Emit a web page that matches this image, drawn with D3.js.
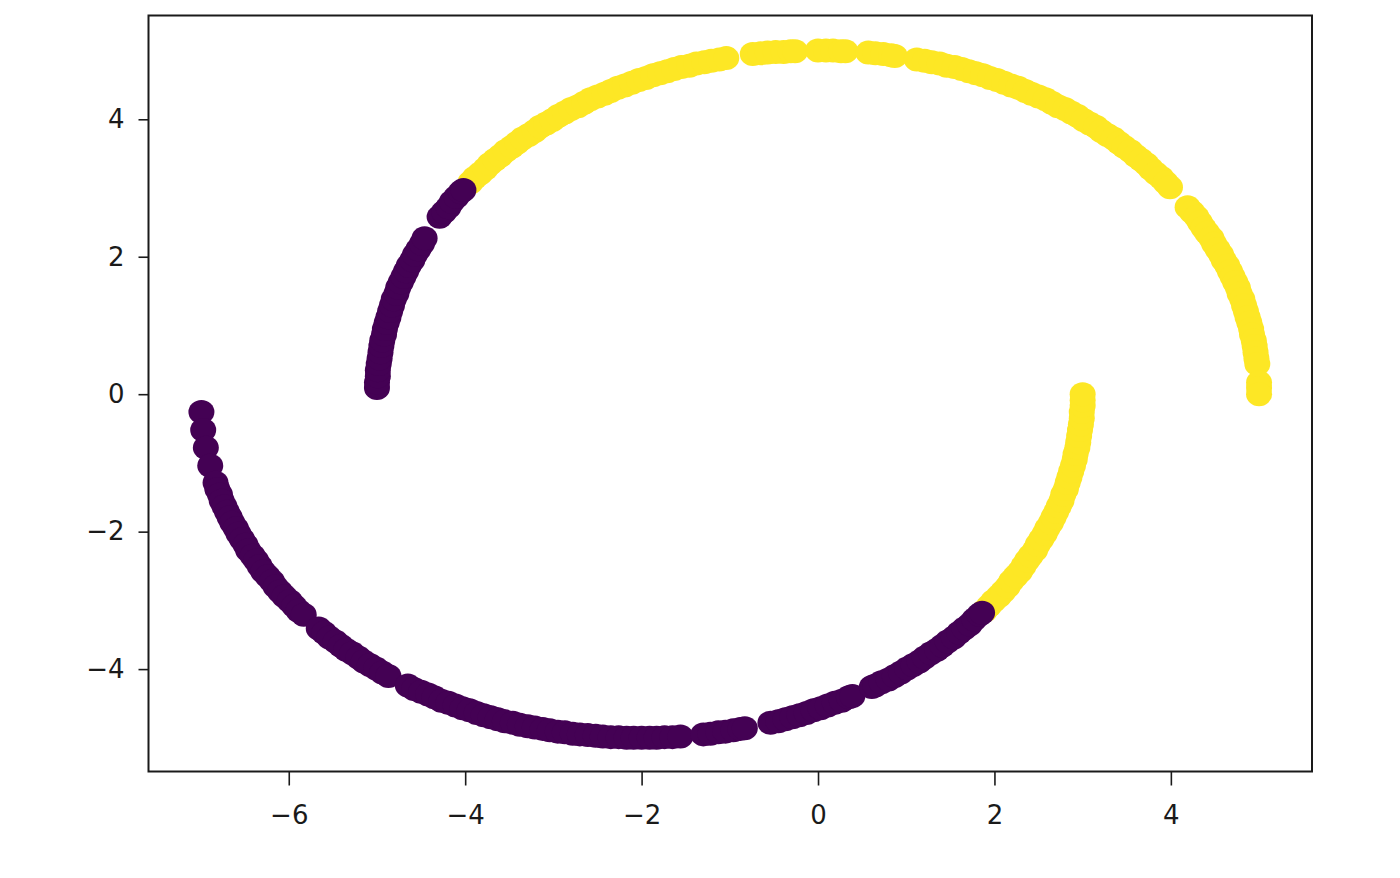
<!DOCTYPE html>
<html>
<head>
<meta charset="utf-8">
<script src="https://cdn.jsdelivr.net/npm/d3@7"></script>
<style>
  html, body { margin: 0; padding: 0; background: #ffffff; }
  svg { display: block; }
</style>
</head>
<body>
<svg id="chart" width="1400" height="878"></svg>
<script>
// ---------- data, [x, y] pairs ----------
const xTicks = [-6, -4, -2, 0, 2, 4];
const yTicks = [-4, -2, 0, 2, 4];

// upper moon, class 0 (purple)
const upperPurple = [
  [-5.00,0.09],[-5.00,0.17],[-4.99,0.26],[-4.99,0.35],[-4.98,0.44],[-4.97,0.52],[-4.96,0.61],[-4.95,0.70],
  [-4.94,0.78],[-4.92,0.87],[-4.91,0.95],[-4.89,1.04],[-4.87,1.12],[-4.85,1.21],[-4.83,1.29],[-4.81,1.38],
  [-4.78,1.46],[-4.76,1.55],[-4.73,1.63],[-4.70,1.71],[-4.67,1.79],[-4.64,1.87],[-4.60,1.95],[-4.57,2.03],
  [-4.53,2.11],[-4.49,2.19],[-4.46,2.27],
  [-4.29,2.58],[-4.24,2.65],[-4.19,2.72],[-4.15,2.80],[-4.10,2.87],[-4.05,2.94],[-4.02,2.97]
];

// upper moon, class 1 (yellow)
const upperYellow = [
  [-3.94,3.08],[-3.89,3.15],[-3.83,3.21],[-3.77,3.28],[-3.72,3.35],[-3.66,3.41],[-3.60,3.47],[-3.54,3.54],
  [-3.47,3.60],[-3.41,3.66],[-3.35,3.72],[-3.28,3.77],[-3.21,3.83],[-3.15,3.89],[-3.08,3.94],[-3.01,3.99],
  [-2.94,4.05],[-2.87,4.10],[-2.80,4.15],[-2.72,4.19],[-2.65,4.24],[-2.58,4.29],[-2.50,4.33],[-2.42,4.37],
  [-2.35,4.41],[-2.27,4.46],[-2.19,4.49],[-2.11,4.53],[-2.03,4.57],[-1.95,4.60],[-1.87,4.64],[-1.79,4.67],
  [-1.71,4.70],[-1.63,4.73],[-1.55,4.76],[-1.46,4.78],[-1.38,4.81],[-1.29,4.83],[-1.21,4.85],[-1.12,4.87],
  [-1.04,4.89],
  [-0.74,4.95],[-0.65,4.96],[-0.57,4.97],[-0.48,4.98],[-0.39,4.98],[-0.31,4.99],[-0.26,4.99],
  [0.00,5.00],[0.09,5.00],[0.17,5.00],[0.26,4.99],[0.31,4.99],
  [0.57,4.97],[0.65,4.96],[0.74,4.95],[0.83,4.93],[0.87,4.92],
  [1.12,4.87],[1.21,4.85],[1.29,4.83],[1.38,4.81],[1.46,4.78],[1.55,4.76],[1.63,4.73],[1.71,4.70],
  [1.79,4.67],[1.87,4.64],[1.95,4.60],[2.03,4.57],[2.11,4.53],[2.19,4.49],[2.27,4.46],[2.35,4.41],
  [2.42,4.37],[2.50,4.33],[2.58,4.29],[2.65,4.24],[2.72,4.19],[2.80,4.15],[2.87,4.10],[2.94,4.05],
  [3.01,3.99],[3.08,3.94],[3.15,3.89],[3.21,3.83],[3.28,3.77],[3.35,3.72],[3.41,3.66],[3.47,3.60],
  [3.54,3.54],[3.60,3.47],[3.66,3.41],[3.72,3.35],[3.77,3.28],[3.83,3.21],[3.89,3.15],[3.94,3.08],
  [3.99,3.01],
  [4.19,2.72],[4.24,2.65],[4.29,2.58],[4.33,2.50],[4.37,2.42],[4.41,2.35],[4.46,2.27],[4.49,2.19],
  [4.53,2.11],[4.57,2.03],[4.60,1.95],[4.64,1.87],[4.67,1.79],[4.70,1.71],[4.73,1.63],[4.76,1.55],
  [4.78,1.46],[4.81,1.38],[4.83,1.29],[4.85,1.21],[4.87,1.12],[4.89,1.04],[4.91,0.95],[4.92,0.87],
  [4.94,0.78],[4.95,0.70],[4.96,0.61],[4.97,0.52],[4.98,0.44],
  [5.00,0.17],[5.00,0.09],[5.00,0.00]
];

// lower moon, class 0 (purple)
const lowerPurple = [
  [-6.99,-0.26],[-6.97,-0.52],[-6.94,-0.78],[-6.89,-1.04],[-6.83,-1.29],
  [-6.81,-1.38],[-6.78,-1.46],[-6.76,-1.55],[-6.73,-1.63],[-6.70,-1.71],[-6.67,-1.79],[-6.64,-1.87],
  [-6.60,-1.95],[-6.57,-2.03],[-6.53,-2.11],[-6.49,-2.19],[-6.46,-2.27],[-6.41,-2.35],[-6.37,-2.42],
  [-6.33,-2.50],[-6.29,-2.58],[-6.24,-2.65],[-6.19,-2.72],[-6.15,-2.80],[-6.10,-2.87],[-6.05,-2.94],
  [-5.99,-3.01],[-5.94,-3.08],[-5.89,-3.15],[-5.83,-3.21],
  [-5.66,-3.41],[-5.60,-3.47],[-5.54,-3.54],[-5.47,-3.60],[-5.41,-3.66],[-5.35,-3.72],[-5.28,-3.77],
  [-5.21,-3.83],[-5.15,-3.89],[-5.08,-3.94],[-5.01,-3.99],[-4.94,-4.05],[-4.87,-4.10],
  [-4.65,-4.24],[-4.58,-4.29],[-4.50,-4.33],[-4.42,-4.37],[-4.35,-4.41],[-4.27,-4.46],[-4.19,-4.49],
  [-4.11,-4.53],[-4.03,-4.57],[-3.95,-4.60],[-3.87,-4.64],[-3.79,-4.67],[-3.71,-4.70],[-3.63,-4.73],
  [-3.55,-4.76],[-3.46,-4.78],[-3.38,-4.81],[-3.29,-4.83],[-3.21,-4.85],[-3.12,-4.87],[-3.04,-4.89],
  [-2.95,-4.91],[-2.87,-4.92],[-2.78,-4.94],[-2.70,-4.95],[-2.61,-4.96],[-2.52,-4.97],[-2.44,-4.98],
  [-2.35,-4.99],[-2.26,-4.99],[-2.17,-5.00],[-2.09,-5.00],[-2.00,-5.00],[-1.91,-5.00],[-1.83,-5.00],
  [-1.74,-4.99],[-1.65,-4.99],[-1.56,-4.98],
  [-1.30,-4.95],[-1.22,-4.94],[-1.13,-4.92],[-1.05,-4.91],[-0.96,-4.89],[-0.88,-4.87],[-0.83,-4.86],
  [-0.54,-4.78],[-0.45,-4.76],[-0.37,-4.73],[-0.29,-4.70],[-0.21,-4.67],[-0.13,-4.64],[-0.05,-4.60],
  [0.03,-4.57],[0.11,-4.53],[0.19,-4.49],[0.27,-4.46],[0.35,-4.41],[0.39,-4.39],
  [0.61,-4.26],[0.65,-4.24],[0.72,-4.19],[0.80,-4.15],[0.87,-4.10],[0.94,-4.05],[1.01,-3.99],
  [1.08,-3.94],[1.15,-3.89],[1.21,-3.83],[1.28,-3.77],[1.35,-3.72],[1.41,-3.66],[1.47,-3.60],
  [1.54,-3.54],[1.60,-3.47],[1.66,-3.41],[1.72,-3.35],[1.77,-3.28],[1.83,-3.21],[1.86,-3.18]
];

// lower moon, class 1 (yellow)
const lowerYellow = [
  [1.89,-3.15],[1.94,-3.08],[1.99,-3.01],[2.05,-2.94],[2.10,-2.87],[2.15,-2.80],[2.19,-2.72],[2.24,-2.65],
  [2.29,-2.58],[2.33,-2.50],[2.37,-2.42],[2.41,-2.35],[2.46,-2.27],[2.49,-2.19],[2.53,-2.11],[2.57,-2.03],
  [2.60,-1.95],[2.64,-1.87],[2.67,-1.79],[2.70,-1.71],[2.73,-1.63],[2.76,-1.55],[2.78,-1.46],[2.81,-1.38],
  [2.83,-1.29],[2.85,-1.21],[2.87,-1.12],[2.89,-1.04],[2.91,-0.95],[2.92,-0.87],[2.94,-0.78],[2.95,-0.70],
  [2.96,-0.61],[2.97,-0.52],[2.98,-0.44],[2.99,-0.35],[2.99,-0.26],[3.00,-0.17],[3.00,-0.09],[3.00,0.00]
];

const classColors = ["#440154", "#fde725"];

// ---------- layout ----------
const svg = d3.select("#chart");
const plotLeft = 148.5, plotTop = 15.5, plotRight = 1312, plotBottom = 771.5;

const x = d3.scaleLinear().domain([-7.59, 5.60]).range([plotLeft, plotRight]);
const y = d3.scaleLinear().domain([-5.49, 5.51]).range([plotBottom, plotTop]);

const tag = (arr, c) => arr.map(p => ({x: p[0], y: p[1], c}));
const points = [].concat(
  tag(upperYellow, 1),
  tag(lowerYellow, 1),
  tag(upperPurple, 0),
  tag(lowerPurple, 0)
);

svg.append("g")
  .selectAll("ellipse")
  .data(points)
  .join("ellipse")
  .attr("cx", d => x(d.x))
  .attr("cy", d => y(d.y))
  .attr("rx", 13)
  .attr("ry", 12)
  .attr("fill", d => classColors[d.c]);

// frame
svg.append("rect")
  .attr("x", plotLeft).attr("y", plotTop)
  .attr("width", plotRight - plotLeft).attr("height", plotBottom - plotTop)
  .attr("fill", "none").attr("stroke", "#1a1a1a").attr("stroke-width", 2);

// axes
const fontFam = "'DejaVu Sans', sans-serif";
const xAxis = svg.append("g")
  .attr("transform", `translate(0,${plotBottom})`)
  .call(d3.axisBottom(x).tickValues(xTicks).tickSizeOuter(0).tickSize(14).tickPadding(20));
const yAxis = svg.append("g")
  .attr("transform", `translate(${plotLeft},0)`)
  .call(d3.axisLeft(y).tickValues(yTicks).tickSizeOuter(0).tickSize(10).tickPadding(14));

[xAxis, yAxis].forEach(g => {
  g.select(".domain").remove();
  g.selectAll(".tick line").attr("stroke", "#1a1a1a").attr("stroke-width", 1.6);
  g.selectAll(".tick text")
    .attr("fill", "#1a1a1a")
    .style("font-family", fontFam)
    .style("font-size", "26px");
});
</script>
</body>
</html>
